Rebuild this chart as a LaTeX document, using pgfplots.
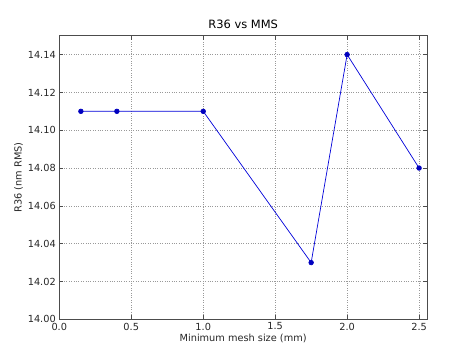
\documentclass[border=0pt]{standalone}
\usepackage{pgfplots}
\pgfplotsset{compat=1.18}
\usepackage{fontspec}
\setmainfont{DejaVu Sans}
\begin{document}
\begin{tikzpicture}
\begin{axis}[
  scale only axis,
  width=367.7bp, height=283.6bp,
  xmin=0, xmax=2.555, ymin=14.00, ymax=14.15,
  xtick={0,0.5,1,1.5,2,2.5},
  ytick={14.00,14.02,14.04,14.06,14.08,14.10,14.12,14.14},
  xticklabel style={/pgf/number format/.cd,fixed,fixed zerofill,precision=1},
  yticklabel style={/pgf/number format/.cd,fixed,fixed zerofill,precision=2},
  /pgf/number format/assume math mode=true,
  tick label style={font=\fontsize{9.8}{11}\selectfont, black!85},
  label style={font=\fontsize{9.8}{11}\selectfont, black!85},
  title style={font=\fontsize{11.5}{13}\selectfont, yshift=-2bp},
  title={R36 vs MMS},
  xlabel={Minimum mesh size (mm)},
  ylabel={R36 (nm RMS)},
  xlabel style={yshift=3bp},
  ylabel style={yshift=-2bp},
  grid=major,
  major grid style={black!40, dotted, line width=0.6pt},
  tick align=inside,
  tick pos=both,
  major tick length=4bp,
  axis line style={black!70, line width=0.9pt},
  every tick/.style={black!70},
]
\addplot[blue!85!black, line width=0.7pt, mark=*, mark size=2.3bp, mark options={fill=blue!75!black, draw=blue!75!black}]
coordinates {(0.15,14.11) (0.40,14.11) (1.0,14.11) (1.75,14.03) (2.0,14.14) (2.5,14.08)};
\end{axis}
\path (current axis.south west) ++(-59.3bp,-35.7bp) rectangle ++(474bp,355bp);
\end{tikzpicture}
\end{document}
